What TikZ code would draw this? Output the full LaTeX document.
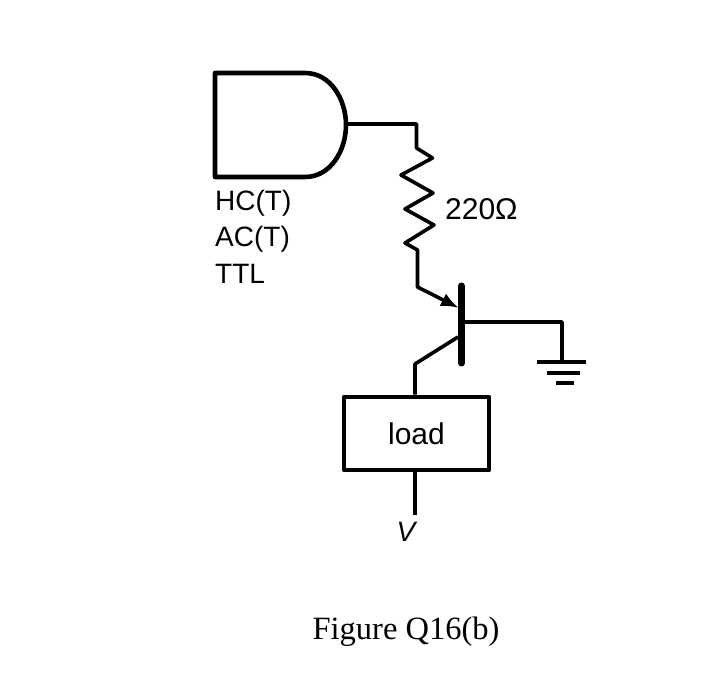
\documentclass[tikz,border=0pt]{standalone}
\usepackage{fontspec}
\setmainfont{Liberation Sans}
\newfontfamily\captionfont{Liberation Serif}
\usetikzlibrary{positioning,arrows.meta}
\tikzset{
  wire/.style   = {line width=3.6pt, line join=round},
  heavy/.style  = {line width=4.6pt, line join=round},
  label/.style  = {inner sep=0pt, font=\fontsize{28}{28}\selectfont},
  boxed/.style  = {draw, heavy, minimum width=145pt, minimum height=73pt, inner sep=0pt, label}
}

\begin{document}
\begin{tikzpicture}[x=1pt, y=-1pt, >={Latex[length=18pt,width=14pt]}]
\useasboundingbox (0,0) rectangle (720,684);

% the gate, drawn as a path
\draw[heavy] (305,73) -- (215,73) -- (215,177) -- (305,177)
  .. controls (331,177) and (346,150) .. (346,125)
  .. controls (346,100) and (331,73) .. (305,73) -- cycle;
\coordinate (gateout) at (346,124);

% fixed points along the wire
\coordinate (corner) at (416.5,124);
\coordinate (rtop) at (416.5,148);
\coordinate (rbot) at (417.5,250);
\coordinate (bend) at (417.5,287);
\coordinate (bartop) at (461.5,286);
\coordinate (barbot) at (461.5,363);
\coordinate (base) at (461.5,322);
\coordinate (gndtop) at (562,322);
\coordinate (gnd) at (562,362);
\coordinate (colin) at (458,337);
\coordinate (colout) at (415,364);

% the labels
\node[label, anchor=west] (hct) at (215,203) {HC(T)};
\node[label, anchor=west] (act) at (215,239) {AC(T)};
\node[label, anchor=west] (ttl) at (215,274) {TTL};
\node[label, anchor=west, font=\fontsize{30}{30}\selectfont] (rval) at (445,209) {220Ω};

\node[boxed, font=\fontsize{30}{30}\selectfont] (load) at (416.5,433.5) {load};
\node[label, font=\fontsize{28}{28}\selectfont\itshape] (vsup) at (406,532) {V};
\node[inner sep=0pt, font=\captionfont\fontsize{32.5}{32.5}\selectfont] (fig) at (406,632) {Figure Q16(b)};

% connectors
\draw[wire, ->] (gateout) -- (corner) -- (rtop) -- (432.5,158) -- (401,175) -- (433,193)
  -- (405,209) -- (434,225) -- (405,243) -- (rbot) -- (bend) -- (459,308);
\draw[line width=7pt, line cap=round] (bartop) -- (barbot);
\draw[wire] (base) -- (gndtop) -- (gnd);
\draw[wire] (colin) -- (colout) -- (colout |- load.north);
\draw[heavy] (load.south -| colout) -- (415,515);

% ground
\draw[heavy] (537,362) -- (586,362);
\draw[heavy] (547,373) -- (580,373);
\draw[heavy] (556,383) -- (574,383);

\end{tikzpicture}
\end{document}
